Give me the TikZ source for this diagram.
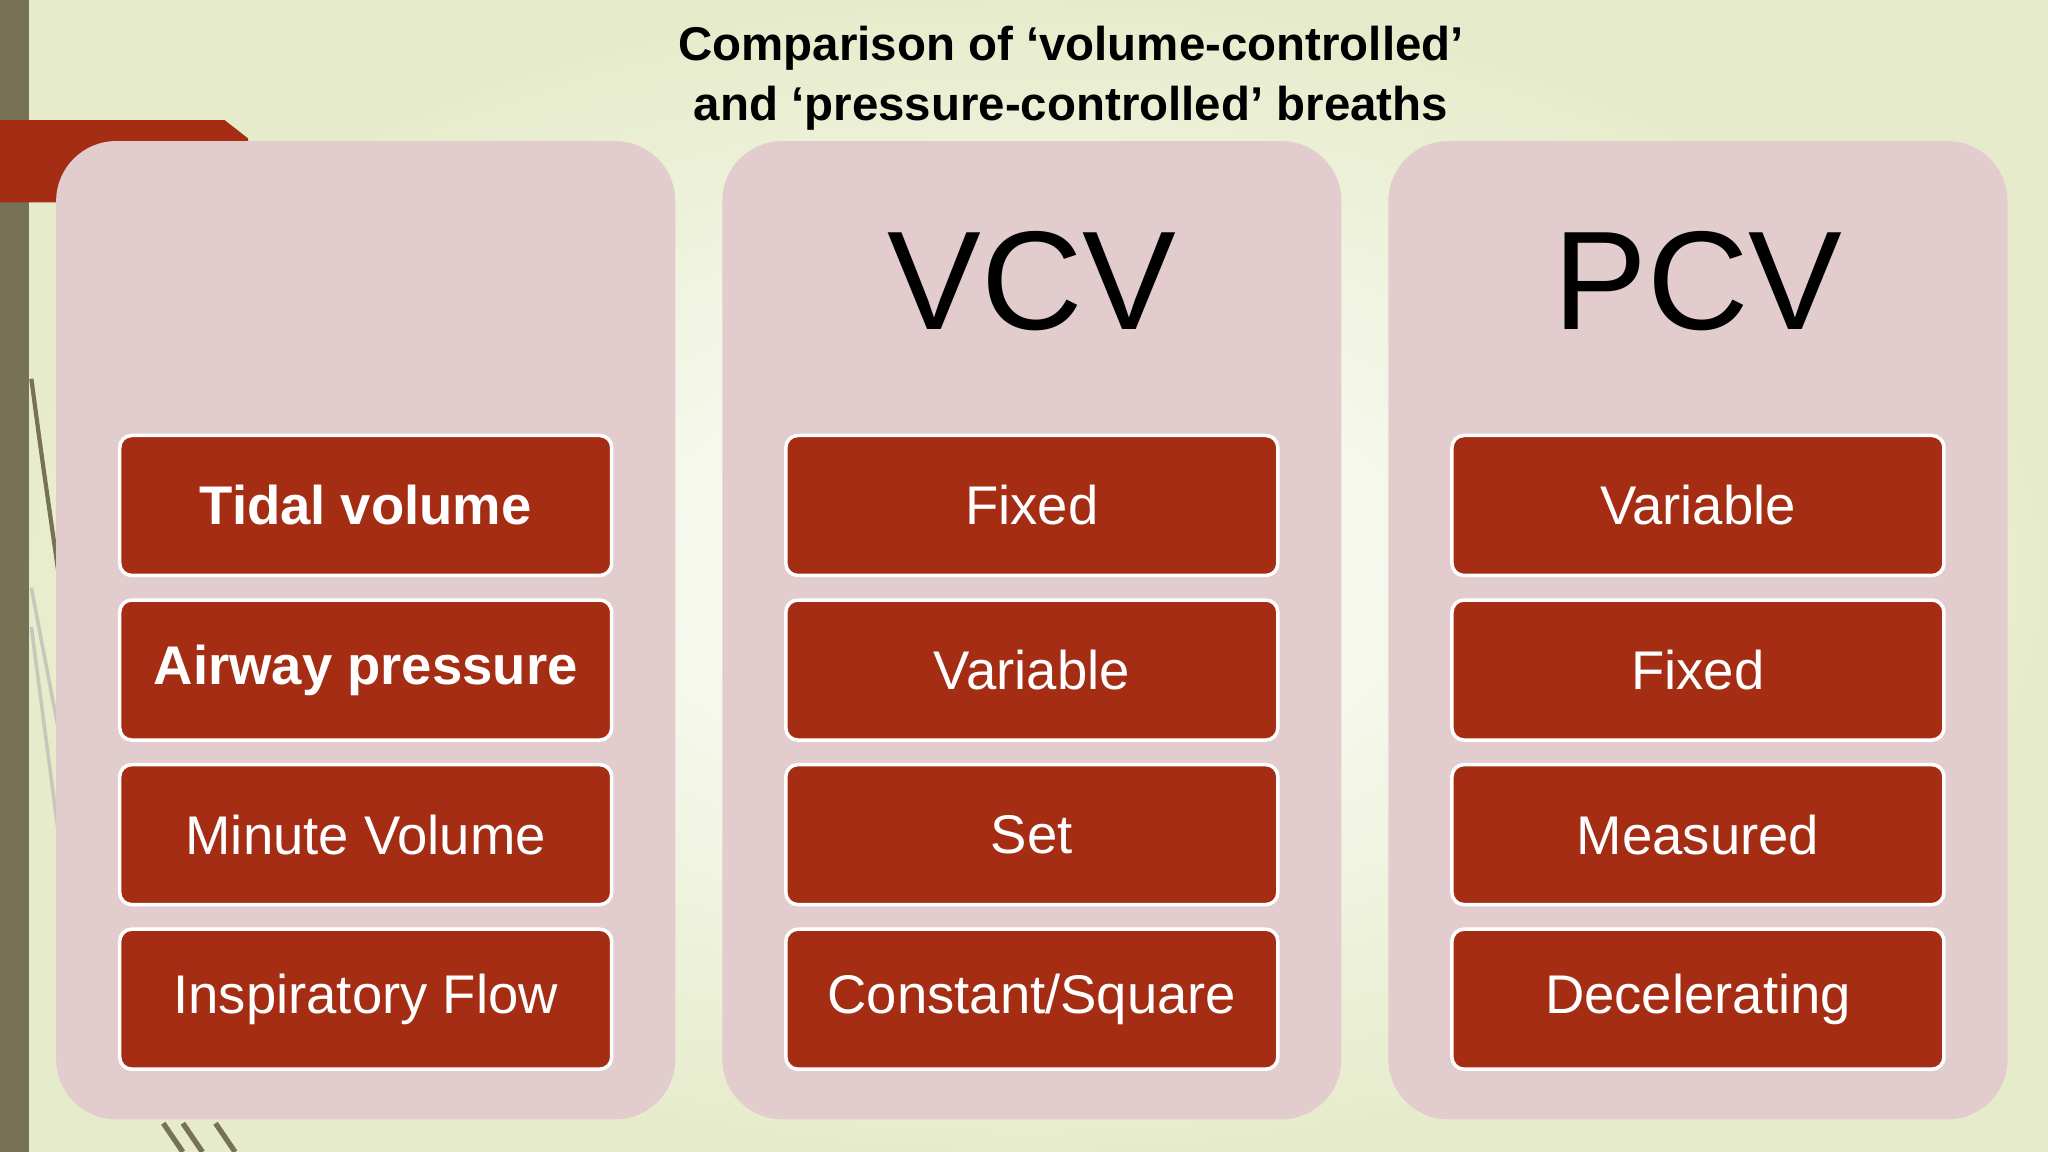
\documentclass[tikz,border=0pt]{standalone}
\usepackage{fontspec}
\setmainfont{Liberation Sans}
\begin{document}
\definecolor{bgE}{HTML}{E6ECCB}
\definecolor{bar}{HTML}{777155}
\definecolor{rust}{HTML}{A52D14}
\definecolor{panel}{HTML}{E3CCCE}
\begin{tikzpicture}[x=0.013061cm,y=-0.013061cm,
  panelS/.style={fill=panel,draw=none,rounded corners=0.6cm},
  box/.style={draw=white,line width=1pt,fill=rust,rounded corners=0.12cm,
    minimum width=4.92cm,minimum height=1.40cm,text=white,font=\fontsize{15.5}{18}\selectfont,inner sep=0pt},
  hdr/.style={font=\fontsize{40}{44}\selectfont}]
\useasboundingbox (0,0) rectangle (1568,882);
\shade[inner color=white,outer color=bgE] (0,0) rectangle (1568,882);
\fill[bar] (0,0) rectangle (22,882);
\fill[rust] (0,92) -- (172,92) -- (190,106) -- (190,155) -- (0,155) -- cycle;
\draw[bar,line width=1.2pt] (24,290) .. controls (32,350) .. (45,440);
\draw[bar!40,line width=1pt] (24,450) -- (45,560);
\draw[bar!40,line width=1pt] (24,480) -- (45,640);
\draw[bar,line width=1.5pt] (125,860) -- (140,882);
\draw[bar,line width=1.5pt] (140,860) -- (155,882);
\draw[bar,line width=1.5pt] (165,860) -- (180,882);
\node[font=\bfseries\fontsize{13.5}{17}\selectfont,align=center] (title) at (820,60)
  {Comparison of ‘volume-controlled’\\and ‘pressure-controlled’ breaths};
\foreach \i/\x in {0/43,1/553,2/1063} {
  \fill[panelS] (\x,108) rectangle ++(474,749);
}
\node[hdr] (vcv) at (790,215) {VCV};
\node[hdr] (pcv) at (1300,215) {PCV};
\node[box,font=\bfseries\fontsize{15.5}{18}\selectfont] (a1) at (280,387) {Tidal volume};
\node[box,font=\bfseries\fontsize{15.5}{18}\selectfont] (a2) at (280,513) {Airway pressure};
\node[box] (a3) at (280,639) {Minute Volume};
\node[box] (a4) at (280,765) {Inspiratory Flow};
\node[box] (b1) at (790,387) {Fixed};
\node[box] (b2) at (790,513) {Variable};
\node[box] (b3) at (790,639) {Set};
\node[box] (b4) at (790,765) {Constant/Square};
\node[box] (c1) at (1300,387) {Variable};
\node[box] (c2) at (1300,513) {Fixed};
\node[box] (c3) at (1300,639) {Measured};
\node[box] (c4) at (1300,765) {Decelerating};
\end{tikzpicture}
\end{document}
